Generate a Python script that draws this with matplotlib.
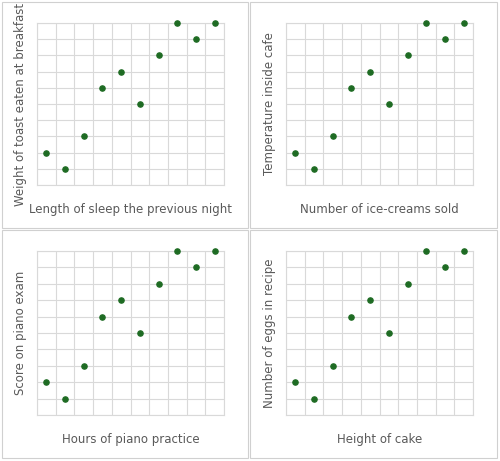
import matplotlib
matplotlib.use("Agg")
import matplotlib.pyplot as plt
from matplotlib.patches import Rectangle

x_vals = [1, 2, 3, 4, 5, 6, 7, 8, 9, 10]
y_vals = [2, 1, 3, 6, 7, 5, 8, 10, 9, 10]
x_labels = ["Length of sleep the previous night", "Number of ice-creams sold",
            "Hours of piano practice", "Height of cake"]
y_labels = ["Weight of toast eaten at breakfast", "Temperature inside cafe",
            "Score on piano exam", "Number of eggs in recipe"]

W, H = 500, 461
fig = plt.figure(figsize=(W/100, H/100), dpi=100)
fig.patch.set_facecolor("white")
txt = "#595959"
boxes = [(2, 2, 246, 226), (250, 2, 247, 226), (2, 230, 246, 228), (250, 230, 247, 228)]
axpos = [(37, 23, 187, 162), (286, 23, 187, 162), (37, 251, 187, 164), (286, 251, 187, 164)]
for i in range(4):
    bx, by, bw, bh = boxes[i]
    fig.add_artist(Rectangle((bx/W, 1-(by+bh)/H), bw/W, bh/H, transform=fig.transFigure,
                             fill=False, edgecolor="#d0d0d0", lw=0.8))
    l, t, w, h = axpos[i]
    ax = fig.add_axes([l/W, 1-(t+h)/H, w/W, h/H])
    ax.scatter([v - 0.5 for v in x_vals], y_vals, s=14, color="#1e6b23", zorder=3, clip_on=False)
    ax.set_xlim(0, 10); ax.set_ylim(0, 10)
    ax.set_xticks(range(11)); ax.set_yticks(range(11))
    ax.grid(True, color="#d9d9d9", lw=0.8)
    ax.tick_params(length=0, labelbottom=False, labelleft=False)
    for s in ax.spines.values():
        s.set_color("#d9d9d9"); s.set_linewidth(0.8)
    ax.set_xlabel(x_labels[i], color=txt, fontsize=8.5, labelpad=13)
    ax.set_ylabel(y_labels[i], color=txt, fontsize=8.5, labelpad=7)
fig.savefig("out.png", dpi=100)
